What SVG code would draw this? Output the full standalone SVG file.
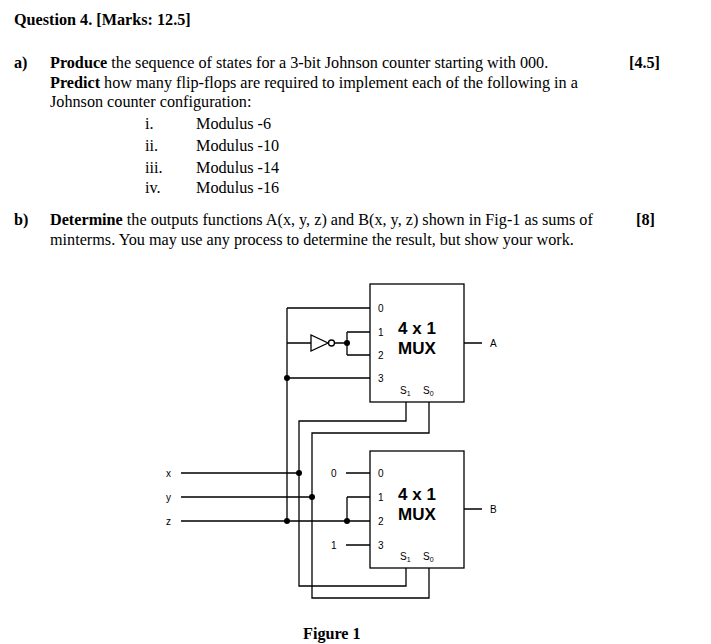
<svg xmlns="http://www.w3.org/2000/svg" width="711" height="644" viewBox="0 0 711 644">
<style>
.t{font-family:"Liberation Serif",serif;font-size:16.2px;fill:#000}
.b{font-weight:bold}
.s{font-family:"Liberation Sans",sans-serif;font-size:10px;fill:#000}
.m{font-family:"Liberation Sans",sans-serif;font-size:17px;font-weight:bold;fill:#000;text-anchor:middle}
.w{stroke:#000;stroke-width:1.3;fill:none}
</style>
<rect width="711" height="644" fill="#fff"/>
<g id="text">
<text class="t b" x="14" y="25">Question 4. [Marks: 12.5]</text>
<text class="t b" x="14" y="68">a)</text>
<text class="t" x="50" y="68"><tspan class="b">Produce</tspan> the sequence of states for a 3-bit Johnson counter starting with 000.</text>
<text class="t b" x="629" y="68">[4.5]</text>
<text class="t" x="50" y="88"><tspan class="b">Predict</tspan>  how many flip-flops are required to implement each of the following in a</text>
<text class="t" x="50" y="107">Johnson counter configuration:</text>
<text class="t" x="145" y="129">i.</text><text class="t" x="196" y="129">Modulus -6</text>
<text class="t" x="145" y="151">ii.</text><text class="t" x="196" y="151">Modulus -10</text>
<text class="t" x="145" y="173">iii.</text><text class="t" x="196" y="173">Modulus -14</text>
<text class="t" x="145" y="193">iv.</text><text class="t" x="196" y="193">Modulus -16</text>
<text class="t b" x="14" y="225">b)</text>
<text class="t" x="50" y="225"><tspan class="b">Determine</tspan> the outputs functions A(x, y, z) and B(x, y, z) shown in Fig-1 as sums of</text>
<text class="t b" x="636" y="225">[8]</text>
<text class="t" x="50" y="245">minterms. You may use any process to determine the result, but show your work.</text>
<text class="t b" x="303" y="639">Figure 1</text>
</g>
<g id="mux-a">
<rect class="w" x="370" y="284" width="94" height="118"/>
<text class="s" x="378" y="312">0</text><text class="s" x="378" y="336">1</text><text class="s" x="378" y="359">2</text><text class="s" x="378" y="382">3</text>
<text class="m" x="417" y="334">4 x 1</text><text class="m" x="417" y="354">MUX</text>
<text class="s" x="400" y="394">S<tspan font-size="7" dy="2">1</tspan></text>
<text class="s" x="423" y="394">S<tspan font-size="7" dy="2">0</tspan></text>
</g>
<g id="mux-b">
<rect class="w" x="370" y="451" width="94" height="117"/>
<text class="s" x="378" y="477">0</text><text class="s" x="378" y="501">1</text><text class="s" x="378" y="525">2</text><text class="s" x="378" y="549">3</text>
<text class="m" x="417" y="500">4 x 1</text><text class="m" x="417" y="520">MUX</text>
<text class="s" x="400" y="560">S<tspan font-size="7" dy="2">1</tspan></text>
<text class="s" x="423" y="560">S<tspan font-size="7" dy="2">0</tspan></text>
</g>
<g id="inverter">
<polygon class="w" points="311,335 311,351 328,343"/>
<circle class="w" cx="331.5" cy="343" r="3"/>
</g>
<g id="labels">
<text class="s" x="166" y="477">x</text><text class="s" x="166" y="501">y</text><text class="s" x="166" y="525">z</text>
<text class="s" x="490" y="347">A</text><text class="s" x="490" y="513">B</text>
<text class="s" x="331" y="477">0</text><text class="s" x="331" y="549">1</text>
</g>
<g id="connectors">
<path class="w" d="M287,308 H370 M287,308 V521 M287,343 H311 M334.5,343 H347 M347,332 V355 M347,332 H370 M347,355 H370 M287,378 H370 M464,343 H482"/>
<path class="w" d="M406,402 V421 H299 V586 H406 V568 M429,402 V433 H312 V598 H429 V568"/>
<path class="w" d="M181,473 H299 M181,497 H312 M181,521 H370 M347,497 V521 M347,497 H370 M346,473 H370 M346,545 H370 M464,509 H482"/>
<g fill="#000">
<circle cx="347" cy="343" r="3"/><circle cx="287" cy="378" r="3"/>
<circle cx="299" cy="473" r="3"/><circle cx="312" cy="497" r="3"/>
<circle cx="287" cy="521" r="3"/><circle cx="347" cy="521" r="3"/>
</g>
</g>
</svg>
